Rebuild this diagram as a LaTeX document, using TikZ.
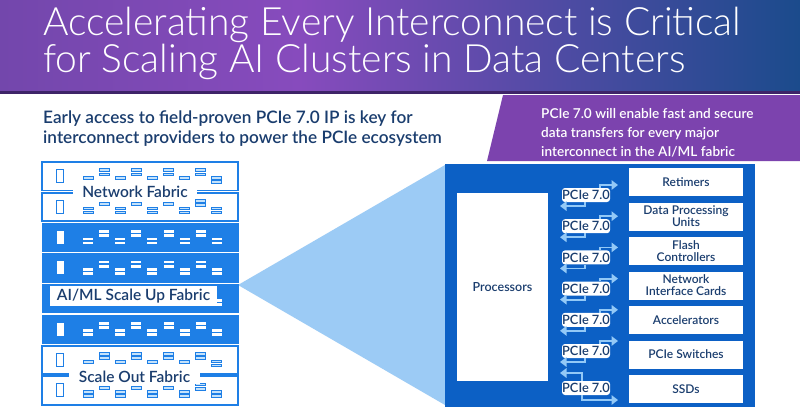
\documentclass[tikz,border=0pt]{standalone}
\usepackage{fontspec}
\setmainfont{Lato}
\newfontfamily\ttlfont{Lato Light}
\newfontfamily\semifont{Lato Semibold}
\usetikzlibrary{arrows.meta}

\definecolor{hdrL}{HTML}{7347AC}
\definecolor{hdrM}{HTML}{874BBD}
\definecolor{hdrR}{HTML}{1B4B8C}
\definecolor{hdrline}{HTML}{3E2468}
\definecolor{navy}{HTML}{1A3D6E}
\definecolor{callout}{HTML}{7C43AE}
\definecolor{rack}{HTML}{1E7FE6}
\definecolor{barlight}{HTML}{C4E2FB}
\definecolor{cone}{HTML}{9CCBF5}
\definecolor{bigblue}{HTML}{0C60C5}
\definecolor{arrowc}{HTML}{93C9F7}

\newcommand\unitbars[3]{%
  \foreach \k [count=\jj from 0] in {#2} {%
    \pgfmathsetmacro\cx{88+16.1*\jj}%
    \ifcase\k
      \path[#3] ({\cx-5},#1+14.5) rectangle ({\cx+5},#1+17.3);
    \or
      \path[#3] ({\cx-5},#1+10) rectangle ({\cx+5},#1+12.8);
    \or
      \path[#3] ({\cx-5},#1+14.3) rectangle ({\cx+5},#1+17.1);
      \path[#3] ({\cx-5},#1+18.3) rectangle ({\cx+5},#1+21.1);
    \or
      \path[#3] ({\cx-5},#1+6.7) rectangle ({\cx+5},#1+9.5);
      \path[#3] ({\cx-5},#1+10.9) rectangle ({\cx+5},#1+13.7);
    \fi
  }%
}
\newcommand\outunit[2]{%
  \draw[rack, line width=1.8, fill=white] (42,#1) rectangle (238,#1+28.5);
  \draw[rack, line width=1, fill=white] (56.5,#1+7.5) rectangle (63.5,#1+20.5);
  \unitbars{#1}{#2}{draw=rack, line width=0.7, fill=barlight}%
}
\newcommand\fillunit[2]{%
  \fill[rack] (41.5,#1-0.4) rectangle (238.5,#1+28.9);
  \fill[white] (56.5,#1+7.5) rectangle (63.5,#1+20.5);
  \unitbars{#1}{#2}{fill=white}%
}

\begin{document}
\begin{tikzpicture}[x=1pt,y=-1pt,
  ttl/.style={text=white, anchor=base west, inner sep=0, font=\ttlfont\fontsize{39}{39}\selectfont},
  sub/.style={text=navy, anchor=base west, inner sep=0, font=\semifont\fontsize{17.2}{17.2}\selectfont},
  callt/.style={text=white, anchor=base west, inner sep=0, font=\semifont\fontsize{13.6}{13.6}\selectfont},
  racklabel/.style={fill=white, text=navy, inner ysep=1, font=\semifont\fontsize{15.5}{15.5}\selectfont},
  devbox/.style={fill=white, text=navy, minimum width=114, minimum height=28, inner sep=0, align=center, font=\semifont\fontsize{12}{12}\selectfont},
  pcielbl/.style={fill=white, text=navy, rounded corners=3, minimum width=48, minimum height=14, inner sep=0, font=\semifont\fontsize{12.8}{12.8}\selectfont},
  arr/.style={draw=arrowc, line width=1.8, -{Triangle[length=6.5,width=9.5]}}
]
\useasboundingbox (0,0) rectangle (800,408);
\fill[white] (0,0) rectangle (800,408);

% header
\fill[left color=hdrL, right color=hdrM] (0,0) rectangle (300,92);
\fill[left color=hdrM, right color=hdrR] (299.5,0) rectangle (800,92);
\fill[hdrline] (0,91) rectangle (800,94);
\node[ttl] (t1) at (43,35.5) {Accelerating Every Interconnect is Critical};
\node[ttl] (t2) at (43,72) {for Scaling AI Clusters in Data Centers};

% subtitle
\node[sub] (s1) at (43,123.5) {Early access to field-proven PCIe 7.0 IP is key for};
\node[sub] (s2) at (43,143.5) {interconnect providers to power the PCIe ecosystem};

% callout
\fill[callout] (503,95) -- (800,95) -- (800,161) -- (487,161) -- cycle;
\node[callt] (c1) at (541,118) {PCIe 7.0 will enable fast and secure};
\node[callt] (c2) at (541,137.5) {data transfers for every major};
\node[callt] (c3) at (541,156.5) {interconnect in the AI/ML fabric};

% cone
\fill[cone] (238,285) -- (445,165) -- (445,405) -- cycle;

% rack
\outunit{162}{0,3,0,3,0,3,0,3,2}
\outunit{192.6}{2,1,2,1,2,1,2,3,2}
\fillunit{223.2}{2,3,2,3,2,3,2,3,2}
\fillunit{253.8}{2,3,2,3,2,3,2,3,2}
\fillunit{284.4}{2,3,2,3,2,3,2,3,2}
\fillunit{315}{2,3,2,3,2,3,2,3,2}
\outunit{345.6}{0,3,0,3,0,3,0,3,2}
\outunit{376.2}{2,1,2,1,2,1,2,3,2}
\node[racklabel, inner xsep=9] (nf) at (135,192.3) {Network Fabric};
\node[racklabel, minimum width=167, minimum height=20, inner sep=0] (ai) at (133.5,296) {AI/ML Scale Up Fabric};
\node[racklabel, inner xsep=9.5] (so) at (134.5,376.9) {Scale Out Fabric};

% big box
\fill[bigblue] (445,164) rectangle (755,407);
\node[fill=white, text=navy, minimum width=91, minimum height=188, inner sep=0, font=\semifont\fontsize{12.5}{12.5}\selectfont] (proc) at (502.5,287) {Processors};

% devices
\node[devbox] (b1) at (686,182) {Retimers};
\node[devbox] (b2) at (686,216.5) {Data Processing\\Units};
\node[devbox] (b3) at (686,251) {Flash\\Controllers};
\node[devbox] (b4) at (686,285.5) {Network\\Interface Cards};
\node[devbox] (b5) at (686,320) {Accelerators};
\node[devbox] (b6) at (686,354.5) {PCIe Switches};
\node[devbox] (b7) at (686,389) {SSDs};

% PCIe labels and arrows
\foreach \i in {1,...,6} {
  \pgfmathsetmacro\yc{195+31.2*(\i-1)}
  \node[pcielbl] (L\i) at (586,\yc) {PCIe 7.0};
  \coordinate (r\i) at (618,\yc-10);
  \coordinate (l\i) at (560,\yc+11);
  \draw[arr] ([xshift=14]L\i.north) |- (r\i);
  \draw[arr] ([xshift=-1]L\i.south) |- (l\i);
}
\node[pcielbl] (L7) at (586,388) {PCIe 7.0};
\coordinate (l7) at (560,373);
\coordinate (r7) at (618,400);
\draw[arr] ([xshift=-4]L7.north) |- (l7);
\draw[arr] ([xshift=-4]L7.south) |- (r7);
\end{tikzpicture}
\end{document}
